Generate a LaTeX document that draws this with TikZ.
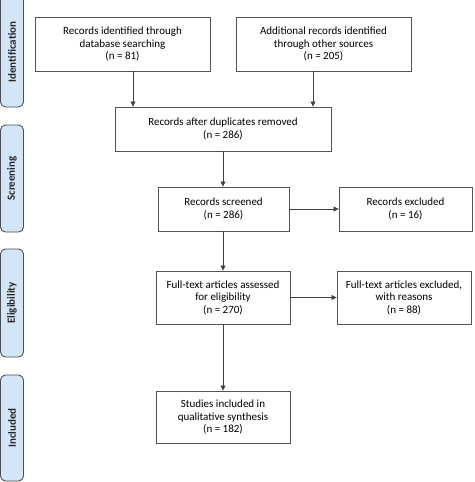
\documentclass[tikz,border=0pt]{standalone}
\usepackage{fontspec}
\setmainfont{Carlito}
\usetikzlibrary{arrows.meta}
\definecolor{tabfill}{HTML}{D3E6F7}
\definecolor{tabline}{HTML}{4A4F55}
\definecolor{boxline}{HTML}{555555}
\tikzset{
  x=1pt, y=-1pt,
  stagebox/.style={draw=boxline, line width=0.9pt, fill=white, align=center, inner sep=2pt, font=\fontsize{11}{12.5}\selectfont},
  tabbox/.style={draw=tabline, line width=0.9pt, fill=tabfill, rounded corners=5pt},
  tablabel/.style={rotate=90, anchor=center, font=\fontsize{11}{13}\selectfont\bfseries, text=black!85},
  arr/.style={draw=black!75, line width=0.8pt, -{Triangle[length=5pt,width=5pt]}}
}
\begin{document}
\begin{tikzpicture}
\useasboundingbox (0,0) rectangle (474,482);
% side tabs
\draw[tabbox] (0.5,-6) rectangle (23.5,107);
\node[tablabel] (tid) at (12,52) {Identification};
\draw[tabbox] (0.5,125) rectangle (23.5,232);
\node[tablabel] (tsc) at (12,178.5) {Screening};
\draw[tabbox] (0.5,249) rectangle (23.5,357);
\node[tablabel] (tel) at (12,303) {Eligibility};
\draw[tabbox] (0.5,375) rectangle (23.5,481);
\node[tablabel] (tin) at (12,428) {Included};
% boxes
\node[stagebox, minimum width=175pt, minimum height=54pt] (b1) at (122.5,44) {Records identified through\\database searching\\(n = 81)};
\node[stagebox, minimum width=175pt, minimum height=54pt] (b2) at (323.5,44) {Additional records identified\\through other sources\\(n = 205)};
\node[stagebox, minimum width=216pt, minimum height=44pt] (b3) at (223,129) {Records after duplicates removed\\(n = 286)};
\node[stagebox, minimum width=131pt, minimum height=44pt] (b4) at (223.5,209) {Records screened\\(n = 286)};
\node[stagebox, minimum width=133pt, minimum height=44pt] (b5) at (405.5,209) {Records excluded\\(n = 16)};
\node[stagebox, minimum width=134pt, minimum height=53pt] (b6) at (223,297.5) {Full-text articles assessed\\for eligibility\\(n = 270)};
\node[stagebox, minimum width=134pt, minimum height=53pt] (b7) at (404,297.5) {Full-text articles excluded,\\with reasons\\(n = 88)};
\node[stagebox, minimum width=134pt, minimum height=52pt] (b8) at (223,417) {Studies included in\\qualitative synthesis\\(n = 182)};
% arrow anchors
\coordinate (a1) at (133,0);
\coordinate (a2) at (313,0);
\coordinate (ac) at (223,0);
% connectors
\draw[arr] (b1.south -| a1) -- (b3.north -| a1);
\draw[arr] (b2.south -| a2) -- (b3.north -| a2);
\draw[arr] (b3.south -| ac) -- (b4.north -| ac);
\draw[arr] (b4.east) -- (b5.west);
\draw[arr] (b4.south -| ac) -- (b6.north -| ac);
\draw[arr] (b6.east) -- (b7.west);
\draw[arr] (b6.south -| ac) -- (b8.north -| ac);
\end{tikzpicture}
\end{document}
